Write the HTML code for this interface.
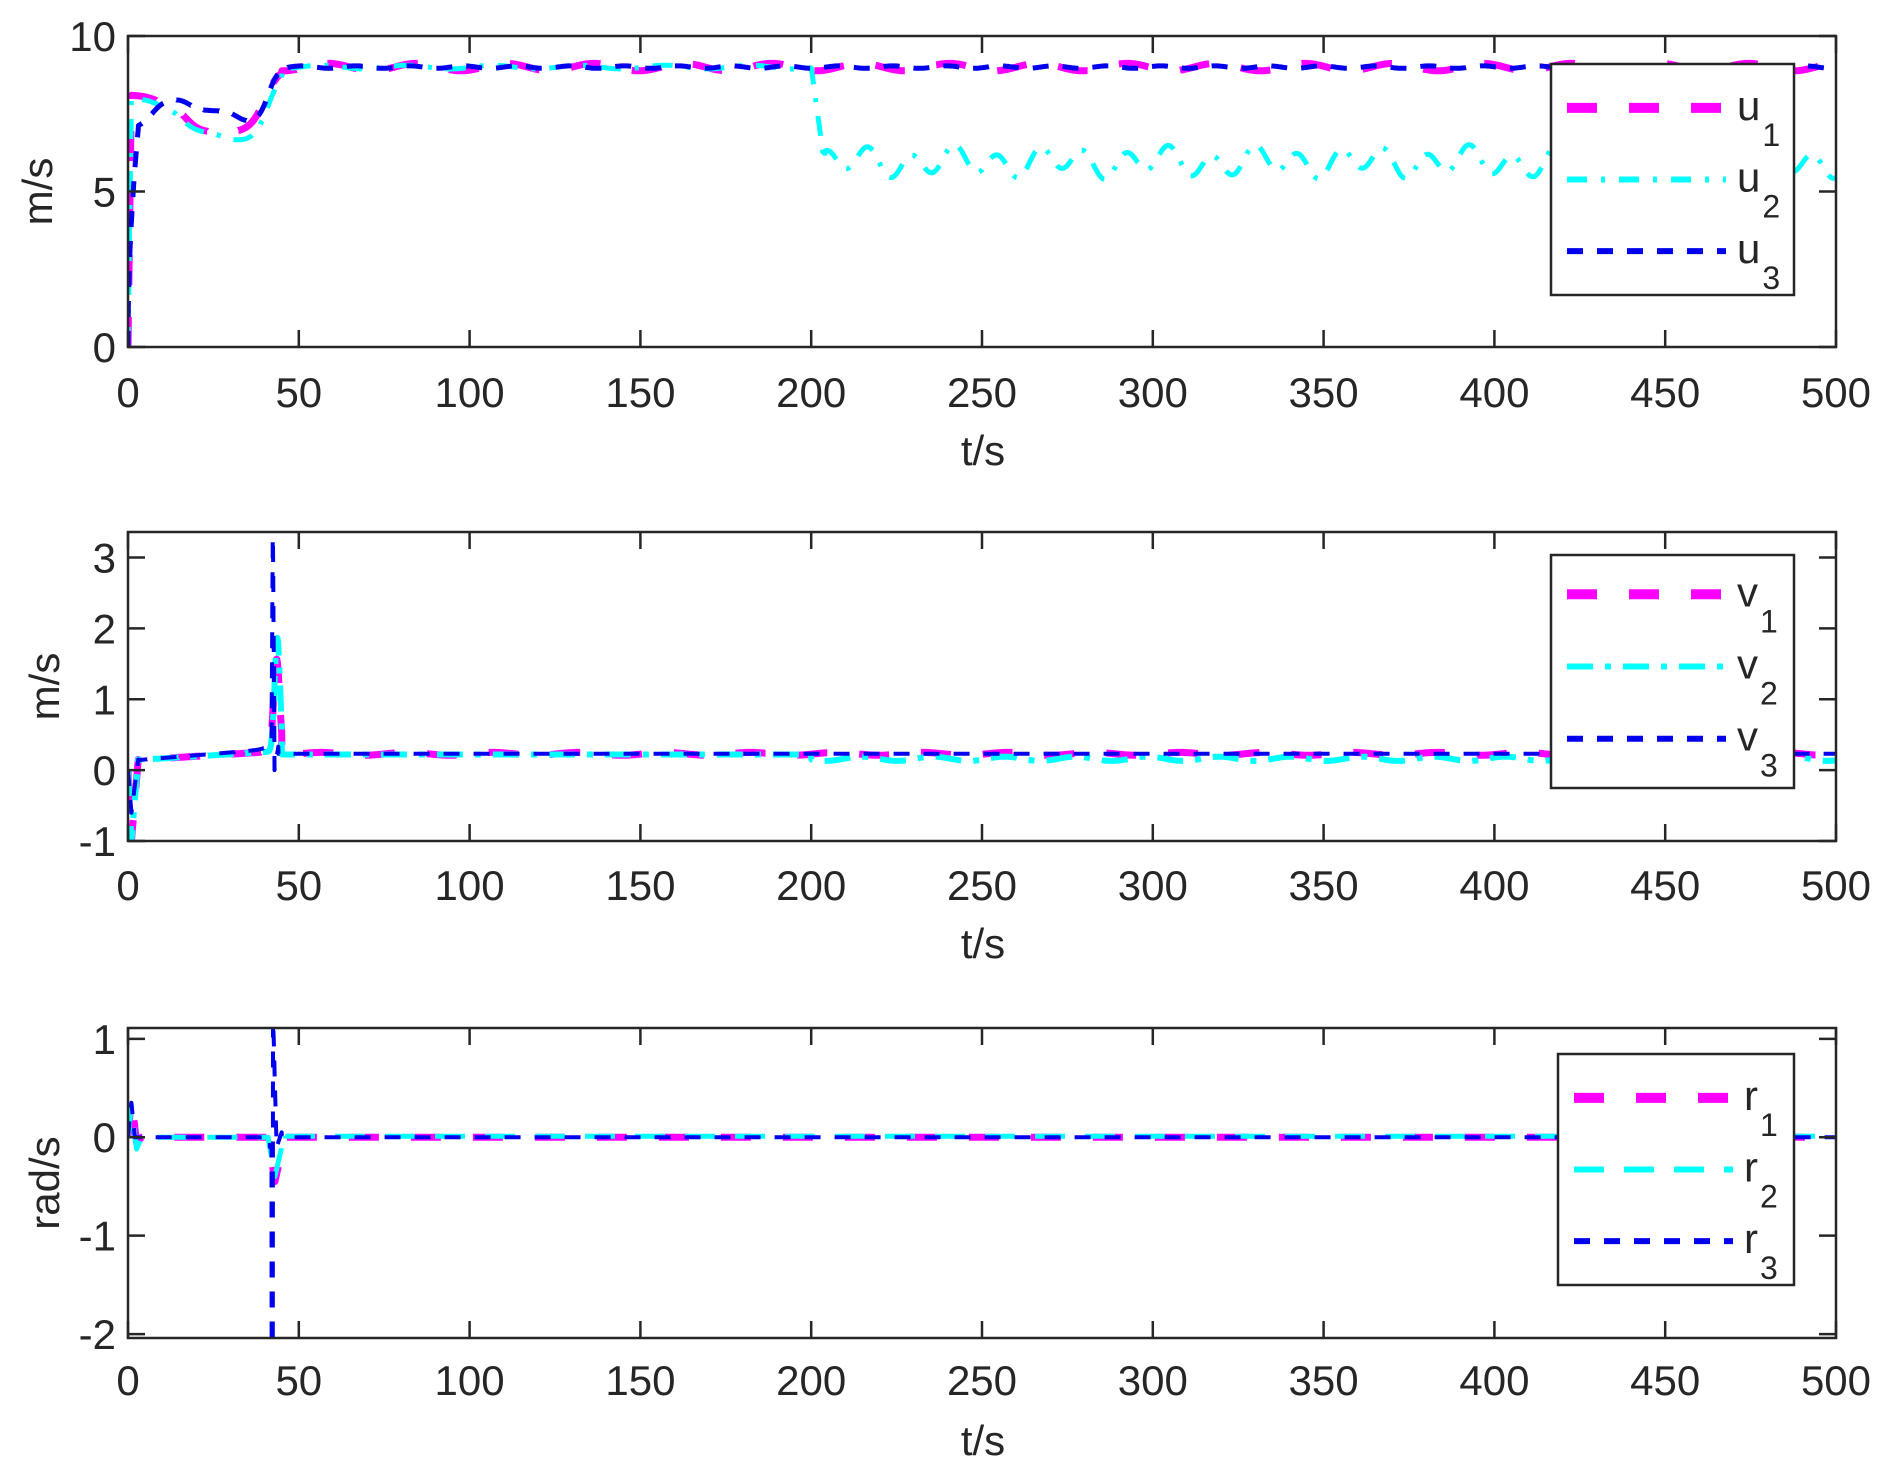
<!DOCTYPE html>
<html><head><meta charset="utf-8"><style>
html,body{margin:0;padding:0;background:#fff;}
svg{display:block;font-family:"Liberation Sans",Arial,sans-serif;}
</style></head><body>
<svg id="s" width="1887" height="1466" viewBox="0 0 1887 1466" xmlns="http://www.w3.org/2000/svg"></svg>
<script>
const S=document.getElementById('s');
const NS='http://www.w3.org/2000/svg';
function el(t,a,txt){const e=document.createElementNS(NS,t);for(const k in a)e.setAttribute(k,a[k]);if(txt!==undefined)e.textContent=txt;S.appendChild(e);return e;}
const X0=128,X1=1836;
function X(t){return X0+(t/500)*(X1-X0);}
const axes=[
 {top:36,bot:347,ymin:0,ymax:10,yt:[0,5,10],ylab:'m/s',ylx:38,xl:392,tl:450,leg:[1551,64,1794,295],sym:'u'},
 {top:532,bot:841,ymin:-1,ymax:3.36,yt:[-1,0,1,2,3],ylab:'m/s',ylx:45,xl:885,tl:943,leg:[1551,555,1794,788],sym:'v'},
 {top:1028,bot:1338,ymin:-2.04,ymax:1.11,yt:[-2,-1,0,1],ylab:'rad/s',ylx:45,xl:1380,tl:1440,leg:[1558,1054,1794,1285],sym:'r'}
];
function Yf(a){return v=>a.bot-(v-a.ymin)/(a.ymax-a.ymin)*(a.bot-a.top);}
function sm(t,a,w){return 1/(1+Math.exp(-(t-a)/w));}
function u1(t){if(t<1)return 8.2*t; if(t<45){return 8.1-0.3*sm(t,8,2)-0.9*sm(t,17,2)+2.1*sm(t,40,2.2);} return 9+0.12*Math.sin(t*2*Math.PI/26);}
function u3(t){if(t<3)return 7*Math.pow(t/3,0.5); if(t<45){return 7+1*sm(t,7,2)-0.4*sm(t,18,1.5)-0.4*sm(t,32,1.5)+1.8*sm(t,41,1.5);} return 9+0.04*Math.sin(t*0.4);}
function u2(t){if(t<1)return 8*t; if(t<45)return 8-0.3*sm(t,8,2)-0.8*sm(t,16,2)-0.3*sm(t,28,2)+2.3*sm(t,41,2);
 if(t<200)return 9+0.06*Math.sin(t*0.25);
 if(t<204)return 9-3.2*(t-200)/4;
 return 5.95+0.38*Math.sin(t*0.5)+0.18*Math.sin(t*0.21+1);}
function v1(t){if(t<1)return -1*t;if(t<3)return -1+1.15*(t-1)/2; if(t<45)return 0.15+0.003*(t-5)+(t>38?1.3*Math.exp(-Math.pow((t-43.5)/1.2,2)):0); return 0.23+0.02*Math.sin(t*0.25);}
function v2(t){if(t<1)return -1*t;if(t<3)return -1+1.15*(t-1)/2; if(t<45)return 0.15+0.003*(t-5)+(t>38?1.6*Math.exp(-Math.pow((t-43.7)/1.1,2)):0); if(t<200)return 0.22; return 0.16+0.03*Math.sin(t*0.3);}
function v3(t){if(t<1)return -0.6*t;if(t<3)return -0.6+0.75*(t-1)/2; if(t<42)return 0.15+0.004*(t-5)+0.1*Math.exp(-(42-t)/1.5); if(t<42.4)return 0.3+(t-42)/0.4*3.2; if(t<42.9)return 3.5-(t-42.4)/0.5*3.5; if(t<44)return 0+(t-42.9)*0.3;return 0.23;}
function r1(t){if(t<1)return 0.4*t;if(t<2.5)return 0.4-0.45*(t-1)/1.5;if(t<4)return -0.05+0.05*(t-2.5)/1.5; if(t<41)return 0; if(t<43)return -0.45*(t-41)/2; if(t<46)return -0.45+0.45*(t-43)/3; return 0;}
function r2(t){if(t<1)return 0.3*t;if(t<2.5)return 0.3-0.42*(t-1)/1.5;if(t<4)return -0.12+0.12*(t-2.5)/1.5; if(t<41)return 0; if(t<43)return -0.4*(t-41)/2; if(t<46)return -0.4+0.45*(t-43)/3; return 0.01;}
function r3(t){if(t<1)return 0.35*t;if(t<2)return 0.35-0.35*(t-1);if(t<41.5)return 0; if(t<42)return -0.1;if(t<42.4)return -2.1;if(t<42.5)return 1.2; if(t<43.5)return 1.2-1.3*(t-42.5); if(t<45)return -0.1+0.15*(t-43.5)/1.5; return 0;}
const series=[
 [[u1,'#ff00ff',7,'30 32'],[u2,'#00ffff',5,'20 14 4 14'],[u3,'#0000ee',5,'16 14']],
 [[v1,'#ff00ff',7,'30 32'],[v2,'#00ffff',6,'26 12 6 12'],[v3,'#0000ee',4,'16 14']],
 [[r1,'#ff00ff',7,'30 32'],[r2,'#00ffff',5,'30 20'],[r3,'#0000ee',4,'16 14']]
];
axes.forEach((a,i)=>{
 const Y=Yf(a);
 const cp='c'+i;
 const d=el('defs',{});const c=document.createElementNS(NS,'clipPath');c.setAttribute('id',cp);d.appendChild(c);
 const r=document.createElementNS(NS,'rect');r.setAttribute('x',X0);r.setAttribute('y',a.top);r.setAttribute('width',X1-X0);r.setAttribute('height',a.bot-a.top);c.appendChild(r);
 series[i].forEach(([f,col,w,da])=>{
  let p='';for(let t=0;t<=500;t+=(t<50?0.05:0.25)){p+=(p?'L':'M')+X(t).toFixed(1)+','+Y(f(t)).toFixed(1);}
  el('path',{d:p,fill:'none',stroke:col,'stroke-width':w,'stroke-dasharray':da,'clip-path':'url(#'+cp+')','stroke-linejoin':'round'});
 });
 el('rect',{x:X0,y:a.top,width:X1-X0,height:a.bot-a.top,fill:'none',stroke:'#262626','stroke-width':2.5});
 for(let t=0;t<=500;t+=50){const x=X(t);
  el('line',{x1:x,y1:a.bot,x2:x,y2:a.bot-17,stroke:'#262626','stroke-width':2.5});
  el('line',{x1:x,y1:a.top,x2:x,y2:a.top+17,stroke:'#262626','stroke-width':2.5});
  el('text',{x:x,y:a.xl+15,'font-size':42,'text-anchor':'middle',fill:'#262626'},String(t));}
 a.yt.forEach(v=>{const y=Y(v);
  el('line',{x1:X0,y1:y,x2:X0+17,y2:y,stroke:'#262626','stroke-width':2.5});
  el('line',{x1:X1,y1:y,x2:X1-17,y2:y,stroke:'#262626','stroke-width':2.5});
  el('text',{x:X0-12,y:y+15,'font-size':42,'text-anchor':'end',fill:'#262626'},String(v));});
 el('text',{x:983,y:a.tl+15,'font-size':42,'text-anchor':'middle',fill:'#262626'},'t/s');
 const yc=(a.top+a.bot)/2;
 el('text',{x:a.ylx+14,y:yc,'font-size':42,'text-anchor':'middle',fill:'#262626',transform:'rotate(-90 '+(a.ylx+14)+' '+yc+')'},a.ylab);
 const [lx0,ly0,lx1,ly1]=a.leg;
 el('rect',{x:lx0,y:ly0,width:lx1-lx0,height:ly1-ly0,fill:'#fff',stroke:'#262626','stroke-width':2.5});
 const h=(ly1-ly0);
 series[i].forEach(([f,col,w,da],k)=>{
  const y=ly0+h*(0.19+0.31*k)+(i==1?-5:0);
  el('line',{x1:lx0+16,y1:y,x2:lx0+175,y2:y,stroke:col,'stroke-width':(k==0?10:6),'stroke-dasharray':da});
  const tx=el('text',{x:lx0+186,y:y+12,'font-size':42,fill:'#262626'},'');
  const t1=document.createElementNS(NS,'tspan');t1.textContent=a.sym;tx.appendChild(t1);
  const t2=document.createElementNS(NS,'tspan');t2.setAttribute('dy','26');t2.setAttribute('font-size','32');t2.setAttribute('dx','2');t2.textContent=String(k+1);tx.appendChild(t2);
 });
});
</script>
</body></html>
